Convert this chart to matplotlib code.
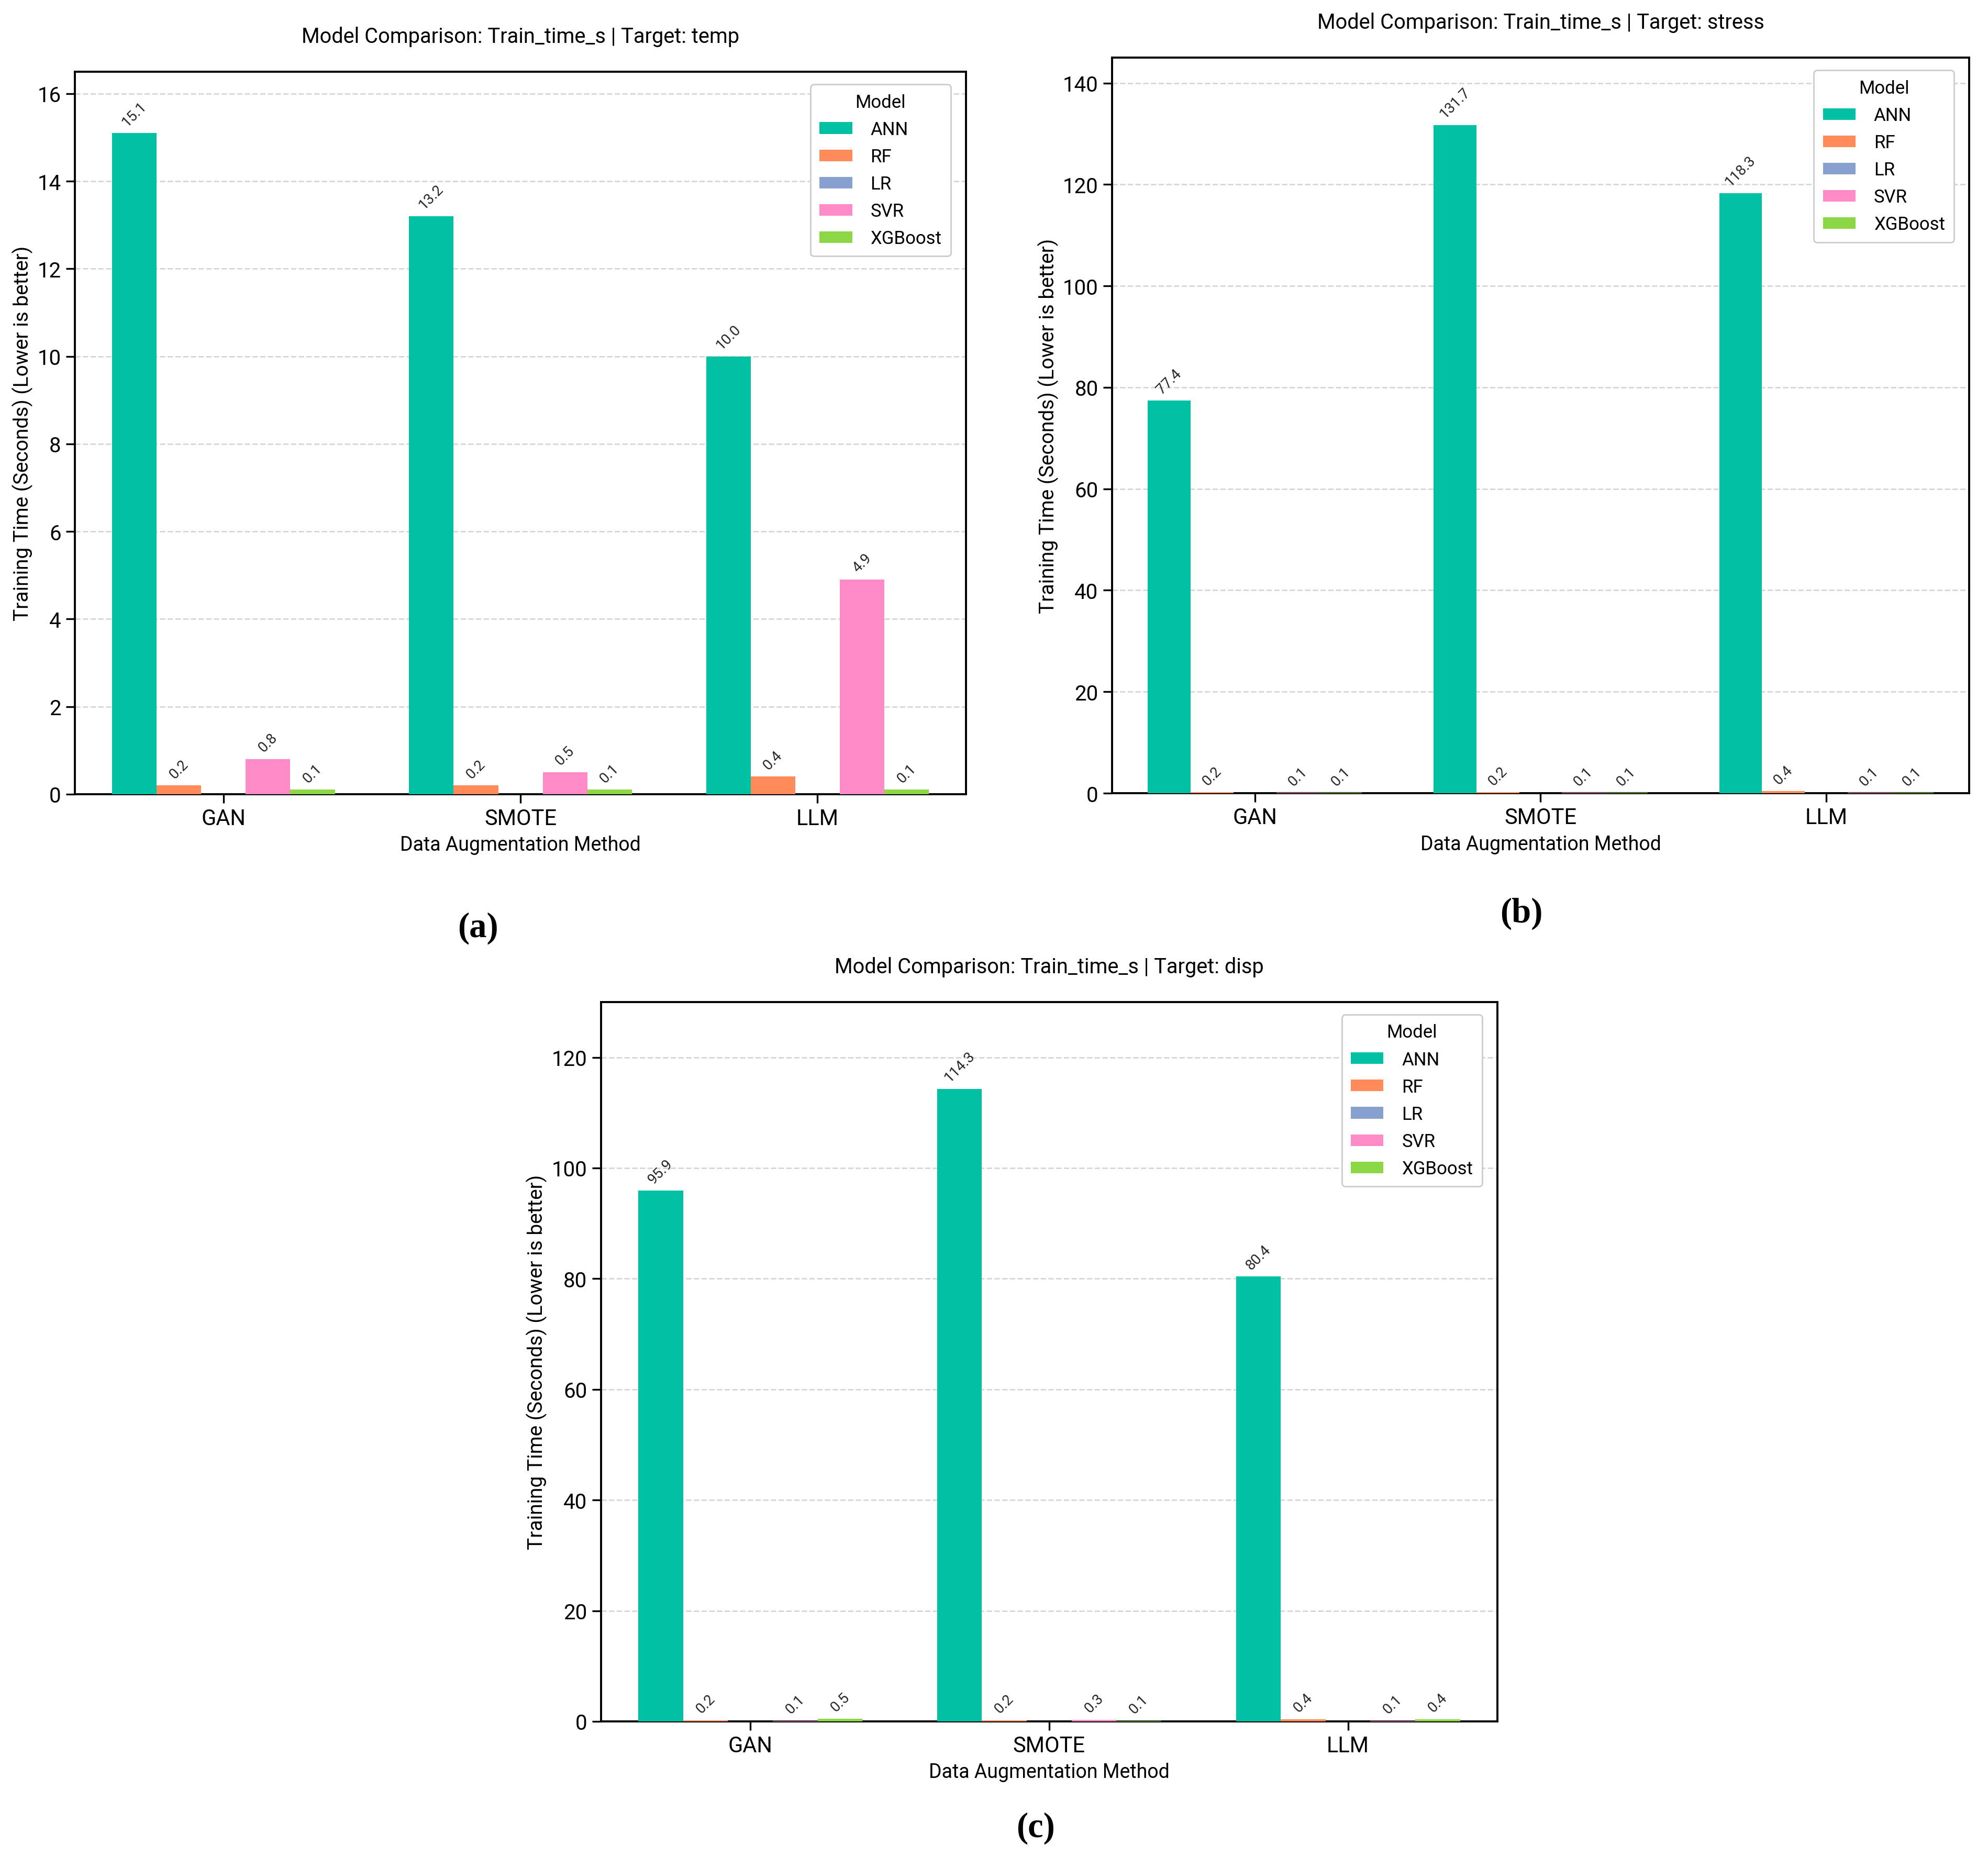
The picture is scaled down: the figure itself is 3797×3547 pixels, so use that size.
#!/usr/bin/env python3

import numpy as np
import matplotlib
matplotlib.use('Agg')
import matplotlib.pyplot as plt

plt.rcParams['font.family'] = ['Roboto', 'DejaVu Sans']

methods = ['GAN', 'SMOTE', 'LLM']
models = ['ANN', 'RF', 'LR', 'SVR', 'XGBoost']
colors = ['#00c1a3', '#ff8a5a', '#87a0cd', '#ff8ac8', '#8cd746']

# train time (seconds), one list per model, in order GAN, SMOTE, LLM
temp_ann = [15.1, 13.2, 10.0]
temp_rf = [0.2, 0.2, 0.4]
temp_lr = [0.0, 0.0, 0.0]
temp_svr = [0.8, 0.5, 4.9]
temp_xgb = [0.1, 0.1, 0.1]

stress_ann = [77.4, 131.7, 118.3]
stress_rf = [0.2, 0.2, 0.4]
stress_lr = [0.0, 0.0, 0.0]
stress_svr = [0.1, 0.1, 0.1]
stress_xgb = [0.1, 0.1, 0.1]

disp_ann = [95.9, 114.3, 80.4]
disp_rf = [0.2, 0.2, 0.4]
disp_lr = [0.0, 0.0, 0.0]
disp_svr = [0.1, 0.3, 0.1]
disp_xgb = [0.5, 0.1, 0.4]


def model_graph(ax, target, series, y_max, y_step):
    x = np.arange(len(methods))
    w = 0.15
    for i, (name, vals) in enumerate(zip(models, series)):
        bars = ax.bar(x + (i - 2) * w, vals, w, color=colors[i], label=name,
                      zorder=3)
        labels = ['%.1f' % v if v >= 0.05 else '' for v in vals]
        ax.bar_label(bars, labels=labels, rotation=45, padding=3,
                     fontsize=10, color='#222222')
    ax.set_xticks(x)
    ax.set_xticklabels(methods, fontsize=15)
    ax.set_xlim(-0.5, 2.5)
    ax.set_ylim(0, y_max)
    ax.set_yticks(np.arange(0, y_max, y_step))
    ax.tick_params(axis='y', labelsize=14.5)
    ax.tick_params(length=6, width=1.2)
    ax.grid(axis='y', linestyle='--', color='#cccccc', linewidth=1.0,
            alpha=0.8, zorder=0)
    for s in ax.spines.values():
        s.set_linewidth(1.4)
    ax.set_xlabel('Data Augmentation Method', fontsize=13.5, labelpad=4)
    ax.set_ylabel('Training Time (Seconds) (Lower is better)', fontsize=14,
                  labelpad=3)
    ax.set_title('Model Comparison: Train_time_s | Target: %s' % target,
                 fontsize=14.3, pad=20)
    ax.legend(title='Model', fontsize=12.5, title_fontsize=12.5,
              loc='upper right', bbox_to_anchor=(0.993, 0.995),
              handlelength=1.8, handleheight=0.6, handletextpad=1.0,
              labelspacing=0.55, borderpad=0.5, framealpha=1.0)


fig = plt.figure(figsize=(3797 / 200, 3548 / 200), dpi=200)
ax_a = fig.add_axes([0.0377, 0.5722, 0.4482, 0.3889])
ax_b = fig.add_axes([0.5594, 0.5727, 0.4311, 0.3960])
ax_c = fig.add_axes([0.3023, 0.0730, 0.4509, 0.3873])

model_graph(ax_a, 'temp', [temp_ann, temp_rf, temp_lr, temp_svr, temp_xgb],
            16.5, 2)
model_graph(ax_b, 'stress', [stress_ann, stress_rf, stress_lr, stress_svr,
                             stress_xgb], 145, 20)
model_graph(ax_c, 'disp', [disp_ann, disp_rf, disp_lr, disp_svr, disp_xgb],
            130, 20)

for label, xp, yp in [('(a)', 913, 1773), ('(b)', 2906, 1745),
                      ('(c)', 1978, 3492)]:
    fig.text(xp / 3797, 1 - yp / 3548, label, ha='center', va='center',
             fontsize=24, fontweight='bold',
             family=['Liberation Serif', 'DejaVu Serif'])

plt.savefig('out.png', dpi=200)
plt.close()
